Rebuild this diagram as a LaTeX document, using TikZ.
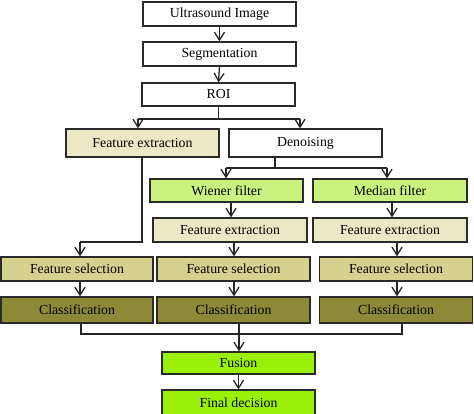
\documentclass[tikz,border=0pt]{standalone}
\usepackage{fontspec}
\setmainfont{Liberation Serif}
\usetikzlibrary{arrows.meta}
\definecolor{fecol}{HTML}{EBE9C5}
\definecolor{wfcol}{HTML}{C9F37E}
\definecolor{fscol}{HTML}{D5D28F}
\definecolor{clcol}{HTML}{8E8936}
\definecolor{fucol}{HTML}{9BF00A}
\definecolor{bord}{HTML}{2A2A2A}
\begin{document}
\begin{tikzpicture}[x=1pt,y=-1pt,
  box/.style={draw=bord,line width=1.2pt,inner sep=0pt,minimum width=153pt,minimum height=24pt,
    font=\fontsize{13.8}{16}\selectfont,text=black},
  conn/.style={draw=black!85,line width=1.3pt},
  arr/.style={conn,-{Straight Barb[length=8pt,width=10pt,line width=1.3pt]}}]
\useasboundingbox (0,0) rectangle (474,414);
\node[box,fill=white] (us) at (219.5,14) {Ultrasound Image};
\node[box,fill=white] (seg) at (219.5,54) {Segmentation};
\node[box,fill=white,minimum height=23pt] (roi) at (218.5,94.5) {ROI};
\node[box,fill=fecol,minimum height=28pt] (fe1) at (142.5,143) {Feature extraction};
\node[box,fill=white,minimum height=28pt] (den) at (305.5,143) {Denoising};
\node[box,fill=wfcol,minimum height=23pt] (wf) at (226.5,190.5) {Wiener filter};
\node[box,fill=wfcol,minimum height=23pt,minimum width=154pt] (mf) at (390,190.5) {Median filter};
\node[box,fill=fecol,minimum width=154pt] (fe2) at (230,230) {Feature extraction};
\node[box,fill=fecol,minimum width=154pt] (fe3) at (390,230) {Feature extraction};
\node[box,fill=fscol,minimum width=152pt] (fs1) at (77,269) {Feature selection};
\node[box,fill=fscol] (fs2) at (233.5,269) {Feature selection};
\node[box,fill=fscol] (fs3) at (396,269) {Feature selection};
\node[box,fill=clcol,minimum width=152pt,minimum height=26pt] (cl1) at (77,310) {Classification};
\node[box,fill=clcol,minimum height=26pt] (cl2) at (233.5,310) {Classification};
\node[box,fill=clcol,minimum height=26pt] (cl3) at (396,310) {Classification};
\node[box,fill=fucol,minimum height=22pt] (fu) at (238.5,363) {Fusion};
\node[box,fill=fucol,minimum height=26pt] (fd) at (238.5,403) {Final decision};
% top chain
\draw[arr] (us.south) -- (seg.north);
\draw[arr] (seg.south) -- (roi.north);
% ROI split
\coordinate (jr) at (218.5,119);
\coordinate (jrL) at (138,119);
\coordinate (jrR) at (300,119);
\draw[conn] (roi.south) -- (jr);
\draw[conn] (jrL) -- (jrR);
\draw[arr] (jrL) -- (jrL |- fe1.north);
\draw[arr] (jrR) -- (jrR |- den.north);
% Denoising split
\coordinate (dtop) at (275,157);
\coordinate (jd) at (275,168);
\coordinate (jdL) at (226,168);
\coordinate (jdR) at (387,168);
\draw[conn] (dtop) -- (jd);
\draw[conn] (jdL) -- (jdR);
\draw[arr] (jdL) -- (jdL |- wf.north);
\draw[arr] (jdR) -- (jdR |- mf.north);
% filters to feature extraction
\coordinate (wfb) at (231,202);
\draw[arr] (wfb) -- (wfb |- fe2.north);
\coordinate (mfb) at (392,202);
\draw[arr] (mfb) -- (mfb |- fe3.north);
% left feature extraction to selection
\coordinate (fe1b) at (142,157);
\coordinate (fe1c) at (142,242);
\coordinate (fe1d) at (80,242);
\draw[conn] (fe1b) -- (fe1c) -- (fe1d);
\draw[arr] (fe1d) -- (fe1d |- fs1.north);
% fe -> fs
\coordinate (fe2b) at (234,242);
\draw[arr] (fe2b) -- (fe2b |- fs2.north);
\coordinate (fe3b) at (397,242);
\draw[arr] (fe3b) -- (fe3b |- fs3.north);
% fs -> cl
\coordinate (fs1b) at (80,281);
\draw[arr] (fs1b) -- (fs1b |- cl1.north);
\coordinate (fs2b) at (234,281);
\draw[arr] (fs2b) -- (fs2b |- cl2.north);
\coordinate (fs3b) at (397,281);
\draw[arr] (fs3b) -- (fs3b |- cl3.north);
% cl -> fusion
\coordinate (c1) at (81,323);
\coordinate (c2) at (239,323);
\coordinate (c3) at (402,323);
\coordinate (j1) at (81,334);
\coordinate (j2) at (239,334);
\coordinate (j3) at (402,334);
\draw[conn] (c1) -- (j1) -- (j3) -- (c3);
\draw[conn] (c2) -- (j2);
\draw[arr] (j2) -- (j2 |- fu.north);
\draw[arr] (fu.south) -- (fd.north);
\end{tikzpicture}
\end{document}
